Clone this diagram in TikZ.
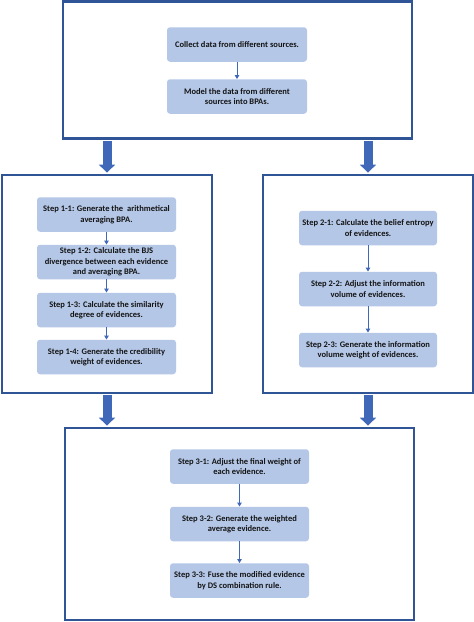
\documentclass[tikz,border=0pt]{standalone}
\usepackage{fontspec}
\setmainfont{Carlito}
\usetikzlibrary{arrows.meta,calc}
\definecolor{frameblue}{HTML}{2F5597}
\definecolor{arrowblue}{HTML}{4068B8}
\definecolor{boxfill}{HTML}{B4C7E7}
\definecolor{txt}{HTML}{141414}
\begin{document}
\begin{tikzpicture}[x=1pt,y=-1pt,
  container/.style={draw=frameblue,line width=2.4pt,fill=white,inner sep=0pt},
  stepbox/.style={fill=boxfill,rounded corners=3pt,minimum width=139pt,minimum height=34.5pt,
    align=center,font=\fontsize{8.5}{10.5}\selectfont\bfseries,text=txt,inner sep=1pt},
  thin/.style={draw=arrowblue,line width=1pt,-{Triangle[width=4.5pt,length=4pt]}},
  fat/.style={draw=arrowblue,line width=9pt,-{Triangle[width=16pt,length=8pt]}}]
\useasboundingbox (0,0) rectangle (474,622);
% containers
\node[container,minimum width=349pt,minimum height=137pt] (top) at (237.5,70) {};
\node[container,minimum width=210pt,minimum height=218pt] (left) at (107,284) {};
\node[container,minimum width=210pt,minimum height=218pt] (right) at (368,284) {};
\node[container,minimum width=349pt,minimum height=192pt] (bottom) at (239.5,524) {};
% top steps
\node[stepbox,minimum width=140pt] (c1) at (237,44.5) {Collect data from different sources.};
\node[stepbox,minimum width=140pt] (c2) at (237,96.5) {Model the data from different\\sources into BPAs.};
% left steps
\node[stepbox] (s11) at (106.5,214.5) {Step 1-1: Generate the\ \ arithmetical\\averaging BPA.};
\node[stepbox] (s12) at (106.5,262) {Step 1-2: Calculate the BJS\\divergence between each evidence\\and averaging BPA.};
\node[stepbox] (s13) at (106.5,310) {Step 1-3: Calculate the similarity\\degree of evidences.};
\node[stepbox] (s14) at (106.5,357) {Step 1-4: Generate the credibility\\weight of evidences.};
% right steps
\node[stepbox,minimum width=138pt] (s21) at (368,228) {Step 2-1: Calculate the belief entropy\\of evidences.};
\node[stepbox,minimum width=138pt] (s22) at (368,289) {Step 2-2: Adjust the information\\volume of evidences.};
\node[stepbox,minimum width=138pt] (s23) at (368,350) {Step 2-3: Generate the information\\volume weight of evidences.};
% bottom steps
\node[stepbox] (s31) at (239.5,466.5) {Step 3-1: Adjust the final weight of\\each evidence.};
\node[stepbox] (s32) at (239.5,524) {Step 3-2: Generate the weighted\\average evidence.};
\node[stepbox] (s33) at (239.5,580.5) {Step 3-3: Fuse the modified evidence\\by DS combination rule.};
% thin arrows
\draw[thin] (c1) -- (c2);
\draw[thin] (s11) -- (s12);
\draw[thin] (s12) -- (s13);
\draw[thin] (s13) -- (s14);
\draw[thin] (s21) -- (s22);
\draw[thin] (s22) -- (s23);
\draw[thin] (s31) -- (s32);
\draw[thin] (s32) -- (s33);
% fat arrows
\coordinate (xl) at (107,0);
\coordinate (xr) at (368,0);
\draw[fat] ([yshift=-1.2pt]top.south -| xl) -- ([yshift=1.2pt]left.north -| xl);
\draw[fat] ([yshift=-1.2pt]top.south -| xr) -- ([yshift=1.2pt]right.north -| xr);
\draw[fat] ([yshift=-1.2pt]left.south -| xl) -- ([yshift=1.2pt]bottom.north -| xl);
\draw[fat] ([yshift=-1.2pt]right.south -| xr) -- ([yshift=1.2pt]bottom.north -| xr);
\end{tikzpicture}
\end{document}
